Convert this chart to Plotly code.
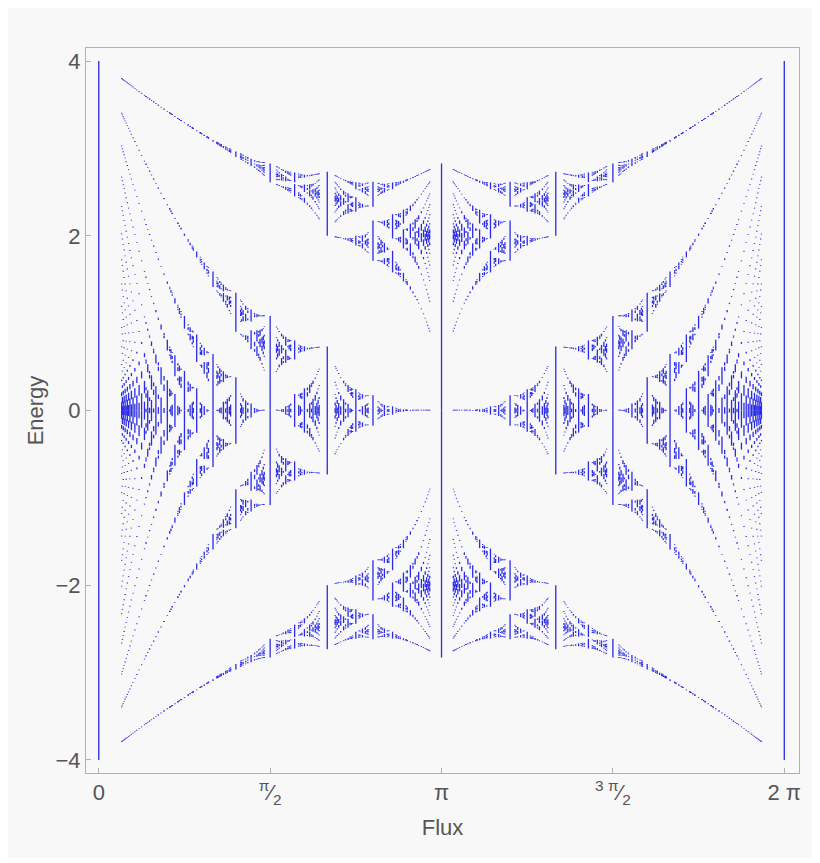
import numpy as np
from math import gcd
import plotly.graph_objects as go

# rational fluxes p/q, q up to 30
q_values = list(range(1, 31))
tick_vals = [0, np.pi / 2, np.pi, 3 * np.pi / 2, 2 * np.pi]
tick_text = ["0", "<sup>π</sup>⁄<sub>2</sub>", "π", "<sup>3 π</sup>⁄<sub>2</sub>", "2 π"]
y_ticks = [-4, -2, 0, 2, 4]


def harper(p, q, k):
    a = p / q
    h = np.zeros((q, q), dtype=complex)
    for j in range(q):
        h[j, j] = 2 * np.cos(k + 2 * np.pi * a * j)
        if q > 1:
            h[j, (j + 1) % q] += 1 if j < q - 1 else np.exp(1j * q * k)
            h[(j + 1) % q, j] += 1 if j < q - 1 else np.exp(-1j * q * k)
    if q == 1:
        h[0, 0] = 2 * np.cos(k) + 2 * np.cos(k)
    return np.linalg.eigvalsh(h)


xs, ys = [], []
for q in q_values:
    for p in range(0, q + 1):
        if gcd(p, q) != 1:
            continue
        e0 = harper(p, q, 0.0)
        e1 = harper(p, q, np.pi / q)
        x = 2 * np.pi * p / q
        for lo, hi in zip(np.minimum(e0, e1), np.maximum(e0, e1)):
            if hi - lo < 0.01:
                hi = lo + 0.01
            xs += [x, x, None]
            ys += [lo, hi, None]

fig = go.Figure(go.Scatter(x=xs, y=ys, mode="lines",
                           line=dict(color="#2a2ae8", width=1.3),
                           showlegend=False, hoverinfo="skip"))

font = dict(family="Liberation Sans", size=22, color="#555555")
fig.update_layout(width=805, height=850, paper_bgcolor="#f8f8f8",
                  plot_bgcolor="#f8f8f8",
                  margin=dict(l=78, r=12, t=40, b=85), font=font)
fig.update_xaxes(range=[-0.117, 6.418], tickvals=tick_vals, ticktext=tick_text,
                 showgrid=False, zeroline=False, showline=True, mirror=True,
                 linecolor="#b0b0b0", ticks="inside", tickcolor="#b0b0b0",
                 title=dict(text="Flux", font=font, standoff=12))
fig.update_yaxes(range=[-4.15, 4.15], tickvals=y_ticks,
                 ticktext=["−4", "−2", "0", "2", "4"],
                 showgrid=False, zeroline=False, showline=True, mirror=True,
                 linecolor="#b0b0b0", ticks="inside", tickcolor="#b0b0b0",
                 title=dict(text="Energy", font=font, standoff=5))
fig.write_html("out.html")
